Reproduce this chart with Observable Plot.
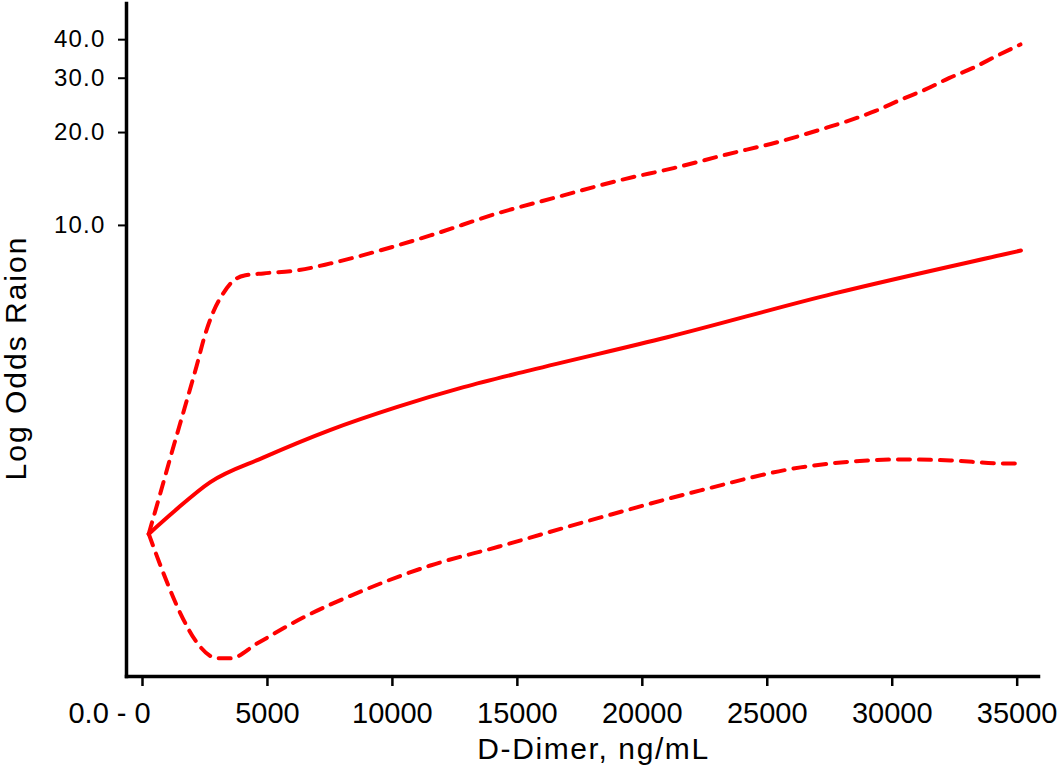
<!DOCTYPE html>
<html>
<head>
<meta charset="utf-8">
<script src="https://cdn.jsdelivr.net/npm/d3@7"></script>
<script src="https://cdn.jsdelivr.net/npm/@observablehq/plot@0.6"></script>
<style>
  html, body { margin: 0; padding: 0; background: #fff; }
  #chart { width: 1063px; height: 781px; }
</style>
</head>
<body>
<div id="chart"></div>
<script>
// D-Dimer (ng/mL) and odds ratio
const dimerSolid = [250, 1250, 2700, 4850, 7500, 10200, 12850, 15500, 21000, 27650, 34450, 35150];
const orSolid    = [1.00, 1.18, 1.47, 1.77, 2.17, 2.58, 2.99, 3.39, 4.34, 6.01, 8.05, 8.29];

const dimerUpper = [250, 720, 1200, 1680, 2160, 2520, 2840, 3200, 3600, 4120, 4840, 6200, 7520, 9520, 11520, 14330, 16500, 19290, 21250, 23330, 25410, 27410, 28410, 29330, 30370, 31290, 32290, 33230, 34170, 35130];
const orUpper    = [1.00, 1.36, 1.87, 2.55, 3.49, 4.47, 5.26, 5.97, 6.58, 6.89, 6.99, 7.15, 7.53, 8.30, 9.28, 11.02, 12.3, 14.13, 15.34, 16.95, 18.62, 20.78, 22.06, 23.5, 25.61, 27.5, 30.07, 32.4, 35.4, 38.6];

const dimerLower = [250, 840, 1520, 2200, 3000, 3520, 4600, 6200, 8840, 11520, 14270, 18330, 22330, 26330, 29010, 30330, 32330, 34450, 35130];
const orLower    = [1.00, 0.745, 0.552, 0.442, 0.395, 0.395, 0.442, 0.524, 0.656, 0.79, 0.91, 1.131, 1.384, 1.643, 1.730, 1.743, 1.730, 1.692, 1.692];

const xTicks = [0, 5000, 10000, 15000, 20000, 25000, 30000, 35000];
const yTicks = [10, 20, 30, 40];
const xTitle = "D-Dimer, ng/mL";
const yTitle = "Log Odds Raion";
const yZeroLabel = "0.0 -";

const red = "#ff0000";

const chart = Plot.plot({
  width: 1063,
  height: 781,
  marginLeft: 126,
  marginRight: 25,
  marginTop: 3,
  marginBottom: 105,
  style: { fontFamily: "'Liberation Sans', Arial, Helvetica, sans-serif", background: "#fff", color: "#000" },
  x: { type: "linear", domain: [-640, 35853] },
  y: { type: "log", domain: [0.345, 52.4] },
  marks: [
    Plot.line(orUpper, { x: dimerUpper, y: orUpper, stroke: red, strokeWidth: 4, strokeDasharray: "12,9", curve: "monotone-x" }),
    Plot.line(orLower, { x: dimerLower, y: orLower, stroke: red, strokeWidth: 4, strokeDasharray: "12,9", curve: "monotone-x" }),
    Plot.line(orSolid, { x: dimerSolid, y: orSolid, stroke: red, strokeWidth: 4, curve: "monotone-x" }),
    Plot.frame({ anchor: "left", stroke: "#000", strokeWidth: 3.5 }),
    Plot.frame({ anchor: "bottom", stroke: "#000", strokeWidth: 3.5 }),
    Plot.axisX({ ticks: xTicks, tickFormat: d3.format("d"), tickSize: 10, tickPadding: 16, fontSize: 29, label: null, strokeWidth: 2.5 }),
    Plot.axisY({ ticks: yTicks, tickFormat: d3.format(".1f"), tickSize: 8, tickPadding: 13, fontSize: 24, label: null, strokeWidth: 2 }),
    Plot.text([yZeroLabel], { frameAnchor: "bottom-left", text: d => d, textAnchor: "end", lineAnchor: "top", dy: 26, dx: 0, fontSize: 29, fill: "#000" }),
    Plot.text([xTitle], { frameAnchor: "bottom", text: d => d, textAnchor: "middle", lineAnchor: "middle", dy: 73, dx: 11, fontSize: 30, fill: "#000" }),
    Plot.text([yTitle], { frameAnchor: "left", text: d => d, textAnchor: "middle", lineAnchor: "middle", rotate: -90, dx: -110, dy: 18, fontSize: 30, fill: "#000" })
  ]
});

d3.select(chart).selectAll("text").each(function () {
  const t = this.textContent;
  if (t === xTitle) this.setAttribute("letter-spacing", "1.6");
  if (t === yTitle) this.setAttribute("letter-spacing", "2");
});
d3.select(chart).selectAll("g[aria-label='y-axis tick label'] text").attr("letter-spacing", "1.2");

document.getElementById("chart").appendChild(chart);
</script>
</body>
</html>
